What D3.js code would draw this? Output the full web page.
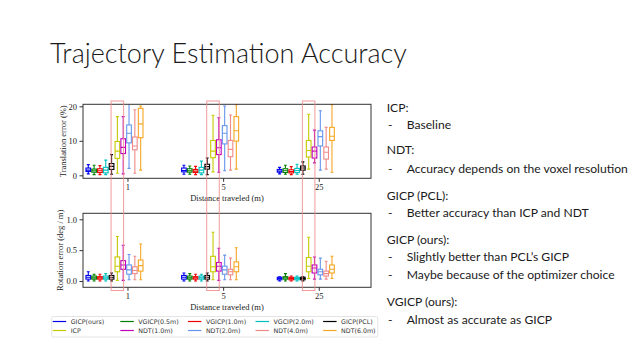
<!DOCTYPE html>
<html><head><meta charset="utf-8">
<script src="https://cdn.jsdelivr.net/npm/d3@7"></script>
<style>html,body{margin:0;padding:0;background:#fff;overflow:hidden}</style>
</head><body>
<svg id="c" width="638" height="359"></svg>
<script>
// ---------------- data ----------------
const distances = ["1", "5", "25"];
const series = ["GICP(ours)", "VGICP(0.5m)", "VGICP(1.0m)", "VGCIP(2.0m)", "GICP(PCL)",
                "ICP", "NDT(1.0m)", "NDT(2.0m)", "NDT(4.0m)", "NDT(6.0m)"];
const legendOrder = ["GICP(ours)", "ICP", "VGICP(0.5m)", "NDT(1.0m)", "VGICP(1.0m)", "NDT(2.0m)",
                     "VGCIP(2.0m)", "NDT(4.0m)", "GICP(PCL)", "NDT(6.0m)"];
const highlighted = ["GICP(PCL)", "NDT(1.0m)"];
const transTicks = [0, 10, 20];
const rotTicks = [0.0, 0.5, 1.0];
// [whisker low, q1, median, q3, whisker high] per series, per distance
const translationStats = [
  [[0.4,1.1,1.5,2.1,3.1],[0.3,1.0,1.4,2.1,2.9],[0.4,0.9,1.2,1.7,2.3]],
  [[0.2,0.9,1.3,1.8,2.9],[0.3,0.9,1.3,1.9,2.7],[0.3,0.8,1.3,1.9,2.9]],
  [[0.2,0.8,1.3,1.9,2.8],[0.2,0.8,1.2,1.7,2.6],[0.2,0.7,1.1,1.6,2.5]],
  [[0.2,0.7,1.5,2.3,4.4],[0.2,0.7,1.5,2.3,4.1],[0.3,0.8,1.4,2.0,3.2]],
  [[0.3,1.7,2.6,3.4,6.0],[0.2,1.8,2.5,3.2,5.0],[0.3,1.5,2.1,2.7,3.9]],
  [[0.6,4.9,7.0,9.8,17.0],[1.0,5.1,7.0,10.1,17.4],[1.8,5.3,7.2,10.1,17.7]],
  [[0.4,6.3,8.1,10.6,17.0],[0.9,6.0,8.0,10.3,16.7],[3.6,5.0,7.0,8.2,13.1]],
  [[2.0,9.4,12.2,14.6,23.0],[1.3,9.1,12.2,14.4,20.1],[1.5,8.5,11.2,12.9,18.7]],
  [[0.6,7.4,8.5,11.1,19.0],[1.5,5.4,7.5,10.1,17.5],[1.8,4.7,6.7,8.2,13.9]],
  [[1.5,10.9,14.9,19.4,20.1],[1.8,9.9,12.9,17.0,20.5],[0.9,10.1,11.3,13.9,20.5]]
];
const rotationStats = [
  [[0.0,0.03,0.06,0.09,0.15],[0.0,0.03,0.06,0.09,0.13],[0.0,0.02,0.04,0.06,0.07]],
  [[0.0,0.03,0.05,0.08,0.11],[0.0,0.03,0.05,0.08,0.12],[0.0,0.03,0.05,0.07,0.12]],
  [[0.0,0.03,0.05,0.07,0.11],[0.0,0.03,0.05,0.07,0.11],[0.0,0.02,0.04,0.06,0.08]],
  [[0.0,0.03,0.05,0.08,0.12],[0.0,0.03,0.05,0.08,0.11],[0.0,0.02,0.04,0.06,0.08]],
  [[0.0,0.03,0.06,0.09,0.13],[0.0,0.03,0.06,0.09,0.13],[0.0,0.02,0.04,0.06,0.07]],
  [[0.01,0.15,0.24,0.39,0.72],[0.02,0.15,0.23,0.40,0.79],[0.04,0.15,0.24,0.38,0.71]],
  [[0.01,0.19,0.26,0.33,0.58],[0.01,0.16,0.24,0.30,0.53],[0.03,0.13,0.21,0.26,0.39]],
  [[0.02,0.11,0.18,0.26,0.43],[0.02,0.11,0.18,0.24,0.42],[0.03,0.10,0.15,0.19,0.37]],
  [[0.02,0.12,0.17,0.23,0.40],[0.02,0.10,0.15,0.19,0.37],[0.03,0.08,0.12,0.16,0.32]],
  [[0.02,0.16,0.25,0.34,0.60],[0.02,0.15,0.23,0.31,0.54],[0.04,0.13,0.19,0.26,0.40]]
];
const title = "Trajectory Estimation Accuracy";
const notes = [
  {head: "ICP:", items: ["Baseline"]},
  {head: "NDT:", items: ["Accuracy depends on the voxel resolution"]},
  {head: "GICP (PCL):", items: ["Better accuracy than ICP and NDT"]},
  {head: "GICP (ours):", items: ["Slightly better than PCL\u2019s GICP", "Maybe because of the optimizer choice"]},
  {head: "VGICP (ours):", items: ["Almost as accurate as GICP"]}
];

// ---------------- styles ----------------
const colors = ["#0000ee", "#008000", "#ee0000", "#00bfbf", "#000000",
                "#c8c800", "#bf00bf", "#6495ed", "#f08a8a", "#f5a623"];
const color = d3.scaleOrdinal().domain(series).range(colors);
const serifFont = "'Liberation Serif', serif";
const sans = "'DejaVu Sans', sans-serif";
const slideFont = "Lato, 'Open Sans', sans-serif";

const svg = d3.select("#c");
const W = 638, H = 359;
svg.append("rect").attr("width", W).attr("height", H).attr("fill", "#fff");

// ---------------- title ----------------
const t = svg.append("text").attr("x", 50).attr("y", 62.5)
  .attr("font-family", slideFont).attr("font-weight", 300)
  .attr("font-size", 30).attr("fill", "#1a1a1a").text(title);
{ const w = t.node().getComputedTextLength(); t.attr("font-size", 30 * 357 / w); }

// ---------------- chart ----------------
const plotL = 83, plotR = 371;
const x = d3.scaleLinear().domain([-0.465, 2.546]).range([plotL, plotR]);
const inner = d3.scaleBand().domain(series).range([-42.1, 16.1]).paddingInner(0.2).paddingOuter(0.1);
const cx = (gi, s) => x(gi) + inner(s) + inner.bandwidth() / 2;

const panels = [
  {stats: translationStats, top: 104.3, bottom: 178.3, domain: [-0.87, 20.58], ticks: transTicks,
   fmt: d3.format("d"), label: "Translation error (%)", labelX: 66},
  {stats: rotationStats, top: 213.3, bottom: 287.3, domain: [-0.102, 1.097], ticks: rotTicks,
   fmt: d3.format(".1f"), label: "Rotation error (deg / m)", labelX: 63}
];
const defs = svg.append("defs");

panels.forEach((p, pi) => {
  const y = d3.scaleLinear().domain(p.domain).range([p.bottom, p.top]);
  const g = svg.append("g");
  defs.append("clipPath").attr("id", "clip" + pi).append("rect")
    .attr("x", plotL).attr("y", p.top).attr("width", plotR - plotL).attr("height", p.bottom - p.top);

  const boxes = g.append("g").attr("clip-path", `url(#clip${pi})`);
  const bw = inner.bandwidth();
  series.forEach((s, si) => {
    distances.forEach((d, gi) => {
      const [lo, q1, med, q3, hi] = p.stats[si][gi];
      const c = cx(gi, s);
      const bg = boxes.append("g").attr("stroke", color(s)).attr("stroke-width", 1.1).attr("fill", "none");
      bg.append("line").attr("x1", c).attr("x2", c).attr("y1", y(q3)).attr("y2", y(hi));
      bg.append("line").attr("x1", c).attr("x2", c).attr("y1", y(q1)).attr("y2", y(lo));
      bg.append("line").attr("x1", c - bw * 0.32).attr("x2", c + bw * 0.32).attr("y1", y(hi)).attr("y2", y(hi));
      bg.append("line").attr("x1", c - bw * 0.32).attr("x2", c + bw * 0.32).attr("y1", y(lo)).attr("y2", y(lo));
      bg.append("rect").attr("x", c - bw / 2).attr("y", y(q3)).attr("width", bw)
        .attr("height", Math.max(0.5, y(q1) - y(q3))).attr("fill", "#fff");
      bg.append("line").attr("x1", c - bw / 2).attr("x2", c + bw / 2).attr("y1", y(med)).attr("y2", y(med));
    });
  });

  // frame
  g.append("rect").attr("x", plotL).attr("y", p.top).attr("width", plotR - plotL)
    .attr("height", p.bottom - p.top).attr("fill", "none").attr("stroke", "#333").attr("stroke-width", 1);

  // axes
  const ya = g.append("g").attr("transform", `translate(${plotL},0)`)
    .call(d3.axisLeft(y).tickValues(p.ticks).tickFormat(p.fmt).tickSize(3.5).tickPadding(2.5));
  ya.select(".domain").remove();
  ya.selectAll("text").attr("font-family", serifFont).attr("font-size", 8.5).attr("fill", "#222");
  ya.selectAll("line").attr("stroke", "#333");

  const xa = g.append("g").attr("transform", `translate(0,${p.bottom})`)
    .call(d3.axisBottom(x).tickValues(distances.map((d, i) => i)).tickFormat(i => distances[i]).tickSize(3.5).tickPadding(2));
  xa.select(".domain").remove();
  xa.selectAll("text").attr("font-family", serifFont).attr("font-size", 8.5).attr("fill", "#222");
  xa.selectAll("line").attr("stroke", "#333");

  g.append("text").attr("x", 227).attr("y", p.bottom + 22.5)
    .attr("text-anchor", "middle").attr("font-family", serifFont).attr("font-size", 8.5)
    .attr("fill", "#222").text("Distance traveled (m)");
  g.append("text").attr("transform", `translate(${p.labelX},${(p.top + p.bottom) / 2}) rotate(-90)`)
    .attr("text-anchor", "middle").attr("font-family", serifFont).attr("font-size", 8.5)
    .attr("fill", "#222").text(p.label);
});

// highlight rectangles spanning both panels
distances.forEach((d, gi) => {
  const x0 = cx(gi, highlighted[0]) - 0.5, x1 = cx(gi, highlighted[1]) + 0.4;
  svg.append("rect").attr("x", x0).attr("y", 101).attr("width", x1 - x0).attr("height", 189.5)
    .attr("fill", "none").attr("stroke", "#f08a8a").attr("stroke-width", 1).attr("opacity", 0.85);
});

// ---------------- legend ----------------
const lg = svg.append("g");
lg.append("rect").attr("x", 51.7).attr("y", 316.5).attr("width", 326).attr("height", 20.5).attr("rx", 1.5)
  .attr("fill", "#fff").attr("stroke", "#ddd").attr("stroke-width", 0.8);
legendOrder.forEach((s, k) => {
  const col = Math.floor(k / 2), row = k % 2;
  const lx = 52.7 + col * 67.6, ly = 321.5 + row * 9;
  lg.append("line").attr("x1", lx).attr("x2", lx + 13.5).attr("y1", ly).attr("y2", ly)
    .attr("stroke", color(s)).attr("stroke-width", 1.2);
  lg.append("text").attr("x", lx + 18).attr("y", ly + 2.2).attr("font-family", sans)
    .attr("font-size", 6.3).attr("fill", "#333").text(s);
});

// ---------------- notes ----------------
const baselines = [[112, [128.5]], [154, [172.5]], [200, [216.5]], [244, [261, 279]], [306, [324]]];
const nt = svg.append("g").attr("font-family", slideFont).attr("fill", "#1a1a1a");
const probe = nt.append("text").attr("font-size", 12).text(notes[1].items[0]);
const fs = 12 * 221.5 / probe.node().getComputedTextLength();
probe.remove();
notes.forEach((n, i) => {
  nt.append("text").attr("x", 386.7).attr("y", baselines[i][0]).attr("font-size", fs).text(n.head);
  n.items.forEach((it, j) => {
    const by = baselines[i][1][j];
    nt.append("text").attr("x", 388).attr("y", by).attr("font-size", fs).text("-");
    nt.append("text").attr("x", 406.7).attr("y", by).attr("font-size", fs).text(it);
  });
});
</script>
</body></html>
